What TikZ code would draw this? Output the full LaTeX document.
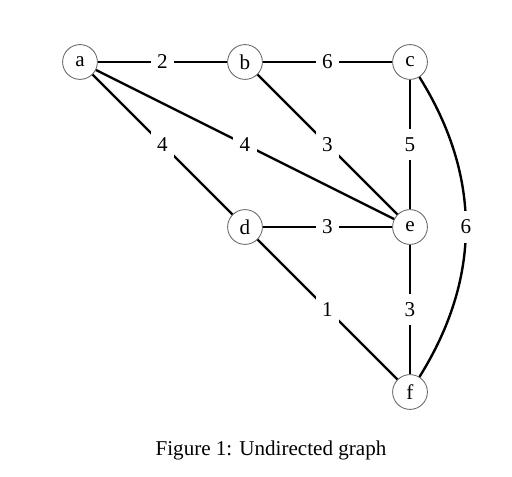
\documentclass[tikz,border=0pt]{standalone}
\usepackage{fontspec}
\setmainfont{Liberation Serif}
\usetikzlibrary{positioning}

\begin{document}
\begin{tikzpicture}[
    font=\fontsize{15}{18}\selectfont,
    vtx/.style={circle, draw=black!60, line width=0.6pt, fill=white, minimum size=0.87cm, inner sep=0pt},
    edg/.style={line width=1.7pt, black},
    wgt/.style={fill=white, inner xsep=4.5pt, inner ysep=6.3pt},
  ]
  \useasboundingbox (-2,1.55) rectangle (10.8,-10.35);

  %% ===== VERTICES =====
  \node[vtx] (a) at (0, 0)          {a};
  \node[vtx] (b) at (4.125, 0)      {b};
  \node[vtx] (c) at (8.25, 0)       {c};
  \node[vtx] (d) at (4.125, -4.125) {d};
  \node[vtx] (e) at (8.25, -4.125)  {e};
  \node[vtx] (f) at (8.25, -8.25)   {f};

  %% ===== WEIGHTED EDGES =====
  \draw[edg] (a) -- (b) node[wgt, midway] {2};
  \draw[edg] (b) -- (c) node[wgt, midway] {6};
  \draw[edg] (a) -- (d) node[wgt, midway] {4};
  \draw[edg] (a) -- (e) node[wgt, midway] {4};
  \draw[edg] (b) -- (e) node[wgt, midway] {3};
  \draw[edg] (c) -- (e) node[wgt, midway] {5};
  \draw[edg] (d) -- (e) node[wgt, midway] {3};
  \draw[edg] (d) -- (f) node[wgt, midway] {1};
  \draw[edg] (e) -- (f) node[wgt, midway] {3};
  \draw[edg] (c) to[bend left=32] node[wgt, midway] {6} (f);

  %% caption
  \node (cap) at (4.775, -9.7) {Figure 1: Undirected graph};
\end{tikzpicture}
\end{document}
